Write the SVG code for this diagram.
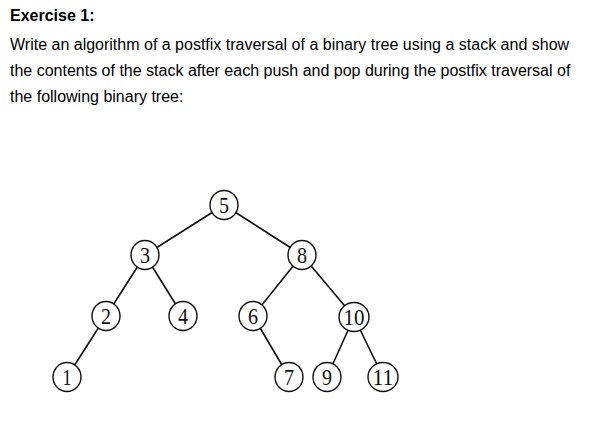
<svg xmlns="http://www.w3.org/2000/svg" width="589" height="428" viewBox="0 0 589 428">
<style>
.t{font-family:"Liberation Sans",Arial,sans-serif;font-size:16px;fill:#000}
.h{font-family:"Liberation Sans",Arial,sans-serif;font-size:16px;font-weight:bold;fill:#000}
.n ellipse{fill:#fff;stroke:#111;stroke-width:1.4}
.n text{font-family:"Liberation Serif","Times New Roman",serif;font-size:24px;fill:#111;text-anchor:middle}
.e line{stroke:#111;stroke-width:1.6}
</style>
<rect width="589" height="428" fill="#fff"/>
<text class="h" x="10" y="21">Exercise 1:</text>
<text class="t" x="10" y="50">Write an algorithm of a postfix traversal of a binary tree using a stack and show</text>
<text class="t" x="10" y="76">the contents of the stack after each push and pop during the postfix traversal of</text>
<text class="t" x="10" y="102">the following binary tree:</text>
<g class="e" id="connectors">
<line x1="224" y1="205" x2="145" y2="255"/>
<line x1="224" y1="205" x2="302" y2="255"/>
<line x1="145" y1="255" x2="106" y2="316"/>
<line x1="145" y1="255" x2="183" y2="316"/>
<line x1="106" y1="316" x2="67" y2="377"/>
<line x1="302" y1="255" x2="253" y2="316"/>
<line x1="302" y1="255" x2="354" y2="317"/>
<line x1="253" y1="316" x2="289" y2="377"/>
<line x1="354" y1="317" x2="327" y2="377"/>
<line x1="354" y1="317" x2="383" y2="377"/>
</g>
<g class="n" id="n5"><ellipse cx="224" cy="205" rx="14" ry="14.5"/><text x="224" y="213" textLength="10" lengthAdjust="spacingAndGlyphs">5</text></g>
<g class="n" id="n3"><ellipse cx="145" cy="255" rx="14" ry="14.5"/><text x="145" y="263" textLength="10" lengthAdjust="spacingAndGlyphs">3</text></g>
<g class="n" id="n8"><ellipse cx="302" cy="255" rx="14" ry="14.5"/><text x="302" y="263" textLength="10" lengthAdjust="spacingAndGlyphs">8</text></g>
<g class="n" id="n2"><ellipse cx="106" cy="316" rx="14" ry="14.5"/><text x="106" y="324" textLength="10" lengthAdjust="spacingAndGlyphs">2</text></g>
<g class="n" id="n4"><ellipse cx="183" cy="316" rx="14" ry="14.5"/><text x="183" y="324" textLength="10" lengthAdjust="spacingAndGlyphs">4</text></g>
<g class="n" id="n6"><ellipse cx="253" cy="316" rx="14" ry="14.5"/><text x="253" y="324" textLength="10" lengthAdjust="spacingAndGlyphs">6</text></g>
<g class="n" id="n10"><ellipse cx="354" cy="317" rx="15" ry="14.5"/><text x="354" y="325" textLength="21" lengthAdjust="spacingAndGlyphs">10</text></g>
<g class="n" id="n1"><ellipse cx="67" cy="377" rx="14" ry="14.5"/><text x="67" y="385" textLength="9" lengthAdjust="spacingAndGlyphs">1</text></g>
<g class="n" id="n7"><ellipse cx="289" cy="377" rx="14" ry="14.5"/><text x="289" y="385" textLength="10" lengthAdjust="spacingAndGlyphs">7</text></g>
<g class="n" id="n9"><ellipse cx="327" cy="377" rx="14" ry="14.5"/><text x="327" y="385" textLength="10" lengthAdjust="spacingAndGlyphs">9</text></g>
<g class="n" id="n11"><ellipse cx="383" cy="377" rx="15" ry="14.5"/><text x="383" y="385" textLength="21" lengthAdjust="spacingAndGlyphs">11</text></g>
</svg>
